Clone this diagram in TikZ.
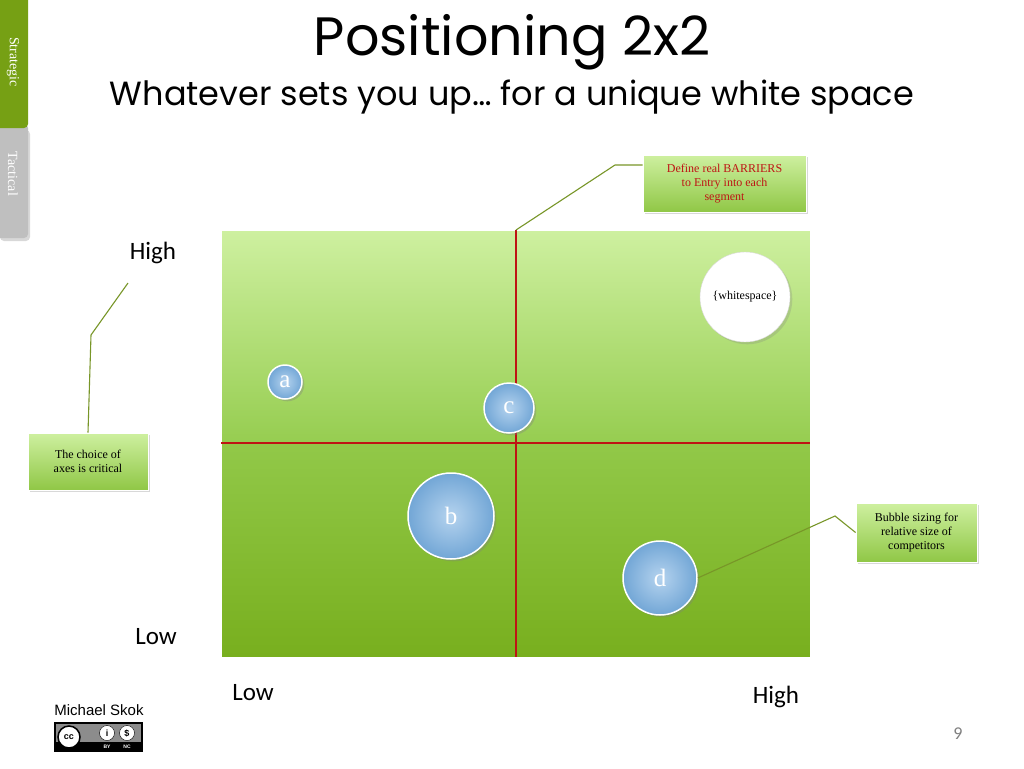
\documentclass[tikz,border=0pt]{standalone}
\usepackage{fontspec}
\setmainfont{Liberation Serif}
\newfontfamily\gothic{Poppins}
\newfontfamily\carlitofont{Carlito}
\newfontfamily\arialfont{Liberation Sans}
\usetikzlibrary{shadows}
\definecolor{tabgreen}{RGB}{118,160,20}
\definecolor{gtop}{RGB}{206,240,160}
\definecolor{gmid}{RGB}{150,205,80}
\definecolor{gbot}{RGB}{120,175,30}
\definecolor{redl}{RGB}{190,20,20}
\definecolor{bub}{RGB}{120,175,225}
\definecolor{calloutline}{RGB}{120,150,40}
\tikzset{
 callout/.style={draw=white,line width=0.8pt,top color=gtop,bottom color=gmid!80!gbot,drop shadow={opacity=0.3},align=center,font=\fontsize{12}{14}\selectfont,inner sep=2pt},
 bubble/.style={circle,draw=white,line width=1.5pt,inner color=bub!55,outer color=bub!95!black,text=white,font=\fontsize{25}{27}\selectfont,drop shadow={opacity=0.35}},
 lead/.style={calloutline,line width=1.1pt},
 axlab/.style={font=\carlitofont\fontsize{25}{27}\selectfont}
}
\begin{document}
\begin{tikzpicture}[x=1pt,y=-1pt]
\useasboundingbox (0,0) rectangle (1024,768);
\fill[white] (0,0) rectangle (1024,768);
% tabs
\fill[black!60,opacity=0.25,rounded corners=4pt] (0,130) rectangle (30,241);
\fill[black!25,rounded corners=4pt] (-5,124) rectangle (28,238);
\fill[tabgreen,rounded corners=4pt] (-5,-5) rectangle (28,128);
\node[rotate=-90,text=white,font=\fontsize{14}{16}\selectfont] (strat) at (13,62) {Strategic};
\node[rotate=-90,text=white,font=\fontsize{14}{16}\selectfont] (tact) at (13,174) {Tactical};
% titles
\node[font=\gothic\fontsize{54}{58}\selectfont] (title) at (512,42) {Positioning 2x2};
\node[font=\gothic\fontsize{33.5}{36}\selectfont] (sub) at (512,97) {Whatever sets you up\dots\ for a unique white space};
% grid
\fill[top color=gtop,bottom color=gmid] (221,230) rectangle (810,443);
\fill[top color=gmid!85!gbot,bottom color=gbot] (221,443) rectangle (810,657);
\draw[white,line width=0.8pt] (221,230) rectangle (810,657);
\draw[redl,line width=2.2pt] (516,230) -- (516,657);
\draw[redl,line width=2.2pt] (221,443) -- (810,443);
\coordinate (vtop) at (516,230);
% bubbles
\node[circle,draw=black!15,fill=white,minimum size=90pt,inner sep=0pt,font=\fontsize{12}{14}\selectfont,drop shadow={opacity=0.25}] (ws) at (745,297) {\{whitespace\}};
\node[bubble,minimum size=34pt,inner sep=0pt] (a) at (285,382) {a};
\node[bubble,minimum size=50pt,inner sep=0pt] (c) at (509,408) {c};
\node[bubble,minimum size=86pt,inner sep=0pt] (b) at (451,516) {b};
\node[bubble,minimum size=74pt,inner sep=0pt] (d) at (660,578) {d};
% callouts
\node[callout,text=redl,minimum width=163pt,minimum height=57pt] (cb) at (724.5,183.5) {Define real BARRIERS\\to Entry into each\\segment};
\node[callout,minimum width=120pt,minimum height=57pt] (ca) at (88,461.5) {The choice of\\axes is critical};
\node[callout,minimum width=121pt,minimum height=59pt] (cs) at (916.5,532.5) {Bubble sizing for\\relative size of\\competitors};
\draw[lead] (vtop) -- (615,165) -- (cb.west |- 0,165);
\coordinate (aend) at (128,283);
\draw[lead] (ca.north) -- (91,335) -- (aend);
\draw[lead] (d.east) -- (835,516) -- (cs.west);
% axis labels
\node[axlab] (hy) at (153,253) {High};
\node[axlab] (ly) at (156,637) {Low};
\node[axlab] (lx) at (253,693) {Low};
\node[axlab] (hx) at (776,697) {High};
% footer
\node[font=\arialfont\fontsize{15}{17}\selectfont] (auth) at (99,710) {Michael Skok};
\fill[black] (54,722) rectangle (143,752);
\fill[black!45] (56,724) rectangle (141,742);
\node[circle,draw=black,line width=1.5pt,fill=white,minimum size=22pt,inner sep=0pt,font=\arialfont\bfseries\fontsize{9}{9}\selectfont] (cc) at (69,737) {cc};
\node[circle,draw=black,fill=white,minimum size=15pt,inner sep=0pt,font=\arialfont\bfseries\fontsize{9}{9}\selectfont] (by) at (107,733) {i};
\node[circle,draw=black,fill=white,minimum size=15pt,inner sep=0pt,font=\arialfont\bfseries\fontsize{9}{9}\selectfont] (nc) at (127,733) {\$};
\node[text=white,font=\arialfont\bfseries\fontsize{5}{5}\selectfont] (byt) at (107,747) {BY};
\node[text=white,font=\arialfont\bfseries\fontsize{5}{5}\selectfont] (nct) at (127,747) {NC};
\node[text=black!50,font=\carlitofont\fontsize{18}{20}\selectfont] (pg) at (958,734) {9};
\end{tikzpicture}
\end{document}
